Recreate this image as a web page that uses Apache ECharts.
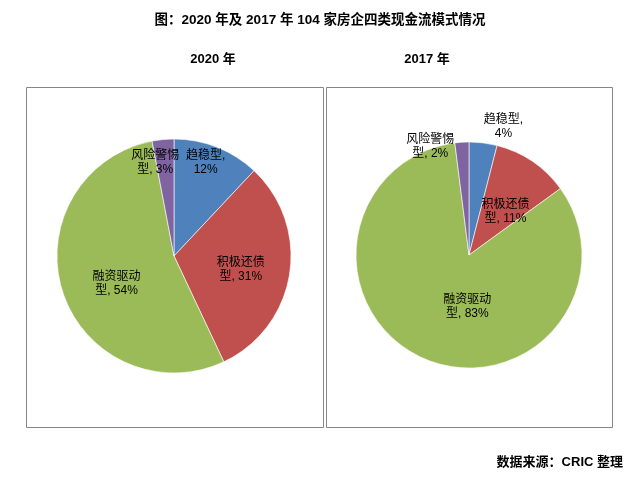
<!DOCTYPE html>
<html>
<head>
<meta charset="utf-8">
<script src="https://cdn.jsdelivr.net/npm/echarts@6/dist/echarts.min.js"></script>
<style>
  html, body { margin: 0; padding: 0; background: #fff; }
  #chart { width: 638px; height: 481px; }
</style>
</head>
<body>
<div id="chart"></div>
<script>
// 类别（顺时针，从12点钟方向开始）
const categories = ['趋稳型', '积极还债型', '融资驱动型', '风险警惕型'];
const values2020 = [12, 31, 54, 3];
const values2017 = [4, 11, 83, 2];
const colors = ['#4F81BD', '#C0504D', '#9BBB59', '#8064A2'];

const font = '"Liberation Sans", "Noto Sans CJK SC", sans-serif';

// 标签文字：名称换行 + 百分比
function labelText(p) {
    const n = p.name;
    if (n.length > 3) return n.slice(0, 4) + '\n' + n.slice(4) + ', ' + p.value + '%';
    return n + ',\n' + p.value + '%';
}

// 标签微调，对应 Excel 原图里的位置
const nudge2020 = [[9, -36], [6, 4], [1, 9], [-13, -32]];
const nudge2017 = [[27, -69], [3, 6], [22, -3], [-35, -49]];

function pieSeries(values, center, radius, nudge) {
    return {
        type: 'pie',
        center: center,
        radius: radius,
        startAngle: 90,
        clockwise: true,
        avoidLabelOverlap: false,
        animation: false,
        data: categories.map((c, i) => ({name: c, value: values[i]})),
        itemStyle: {borderColor: '#fff', borderWidth: 0.6},
        label: {
            show: true,
            position: 'inside',
            formatter: labelText,
            color: '#000',
            fontSize: 12,
            lineHeight: 14,
            fontFamily: font
        },
        labelLine: {show: false},
        labelLayout: function (params) {
            const d = nudge[params.dataIndex];
            return {dx: d[0], dy: d[1]};
        },
        emphasis: {disabled: true}
    };
}

const chart = echarts.init(document.getElementById('chart'));
chart.setOption({
    color: colors,
    graphic: [
        {type: 'rect', shape: {x: 26.5, y: 87.5, width: 297, height: 340}, style: {fill: 'none', stroke: '#868686', lineWidth: 1}},
        {type: 'rect', shape: {x: 326.5, y: 87.5, width: 286, height: 340}, style: {fill: 'none', stroke: '#868686', lineWidth: 1}},
        {type: 'text', x: 320, y: 20, style: {text: '图：2020 年及 2017 年 104 家房企四类现金流模式情况', font: 'bold 13.5px ' + font, fill: '#000', textAlign: 'center', textVerticalAlign: 'middle'}},
        {type: 'text', x: 213, y: 59, style: {text: '2020 年', font: 'bold 13px ' + font, fill: '#000', textAlign: 'center', textVerticalAlign: 'middle'}},
        {type: 'text', x: 427, y: 59, style: {text: '2017 年', font: 'bold 13px ' + font, fill: '#000', textAlign: 'center', textVerticalAlign: 'middle'}},
        {type: 'text', x: 623, y: 462, style: {text: '数据来源：CRIC 整理', font: 'bold 13px ' + font, fill: '#000', textAlign: 'right', textVerticalAlign: 'middle'}}
    ],
    series: [
        pieSeries(values2020, [174, 256], 117, nudge2020),
        pieSeries(values2017, [469, 255], 113, nudge2017)
    ]
});
</script>
</body>
</html>
